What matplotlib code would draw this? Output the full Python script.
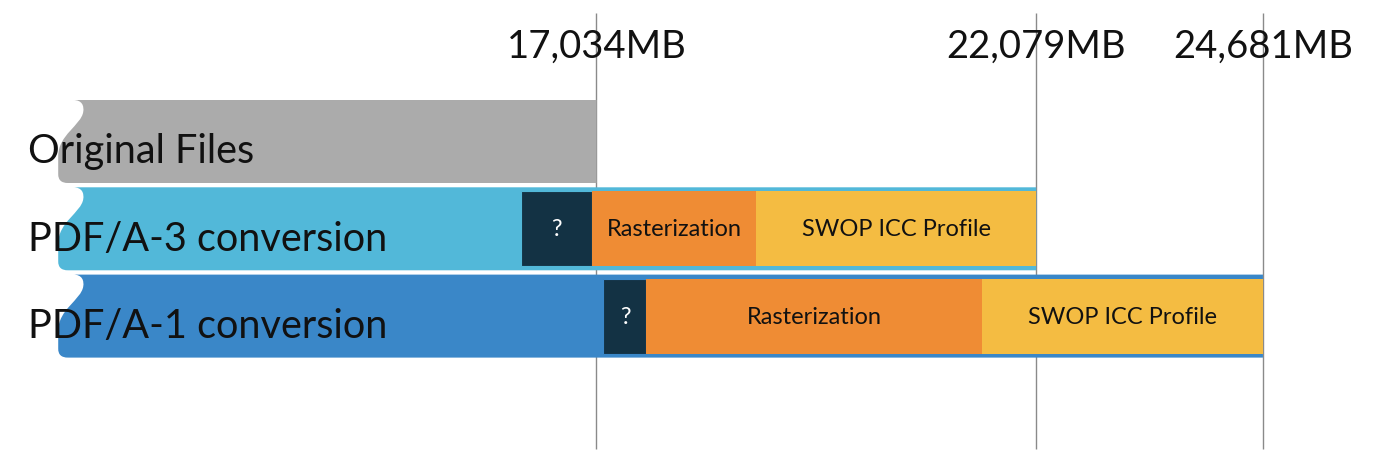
import matplotlib
matplotlib.use("Agg")
import matplotlib.pyplot as plt
from matplotlib.path import Path
from matplotlib.patches import PathPatch

# ---------------- data ----------------
categories = ["Original Files", "PDF/A-3 conversion", "PDF/A-1 conversion"]
totals_mb = [17034, 22079, 24681]
tick_values = [17034, 22079, 24681]
bar_colors = ["#ABABAB", "#52B8D9", "#3A87C8"]

seg_labels = ["?", "Rasterization", "SWOP ICC Profile"]
seg_colors = ["#133244", "#EF8C34", "#F4BC42"]
seg_text_colors = ["white", "#111111", "#111111"]
# segment boundaries (MB) for each conversion row
a3_bounds = [16163, 16988, 18868, 22079]
a1_bounds = [17114, 17607, 21459, 24681]
segments = {1: a3_bounds, 2: a1_bounds}

break_value = 11030  # broken-axis start of bars

# ---------------- layout ----------------
W, H = 1374, 460
MB_PER_PX = 11.474
X0 = 10190
Y_PX0 = 142.5
Y_STEP = 87.3

fig = plt.figure(figsize=(W / 100, H / 100), dpi=100)
ax = fig.add_axes([0, 0, 1, 1])
ax.set_xlim(X0, X0 + W * MB_PER_PX)
ax.set_ylim((H - Y_PX0) / Y_STEP, -Y_PX0 / Y_STEP)
ax.axis("off")

FONT = ["Lato", "DejaVu Sans"]

def px_x(dx):
    return dx * MB_PER_PX

def px_y(dy):
    return dy / Y_STEP

bar_h = 83 / Y_STEP
inset = 4 / Y_STEP

# vertical reference lines + top labels
for v in tick_values:
    ax.plot([v, v], [px_y(14 - Y_PX0), px_y(450 - Y_PX0)], color="#8a8a8a",
            lw=1.0, zorder=0, solid_capstyle="butt")
    ax.text(v, px_y(58 - Y_PX0), f"{v:,}MB", ha="center", va="baseline",
            fontsize=27.5, family=FONT, color="#111111", zorder=5)


def wavy_bar(y_center, end, color):
    top = y_center - bar_h / 2
    s = break_value
    def P(dx, dy):
        return (s + px_x(dx), top + px_y(dy))
    verts = [P(0, 0),
             P(9, 0), P(11, 6), P(10, 12),
             P(8, 25), P(-15, 35), P(-15, 56),
             P(-15, 74),
             P(-15, 80), P(-12, 83), P(-5, 83),
             (end, top + bar_h),
             (end, top),
             P(0, 0)]
    codes = [Path.MOVETO,
             Path.CURVE4, Path.CURVE4, Path.CURVE4,
             Path.CURVE4, Path.CURVE4, Path.CURVE4,
             Path.LINETO,
             Path.CURVE4, Path.CURVE4, Path.CURVE4,
             Path.LINETO, Path.LINETO, Path.CLOSEPOLY]
    ax.add_patch(PathPatch(Path(verts, codes), facecolor=color,
                           edgecolor="none", zorder=2))


for i, (cat, tot, col) in enumerate(zip(categories, totals_mb, bar_colors)):
    wavy_bar(i, tot, col)
    ax.text(X0 + px_x(28), i + px_y(21), cat, ha="left", va="baseline",
            fontsize=28.5, family=FONT, color="#111111", zorder=6)

for i, bounds in segments.items():
    for k in range(3):
        left, right = bounds[k], bounds[k + 1]
        ax.barh(i, right - left, left=left, height=bar_h - 2 * inset,
                color=seg_colors[k], edgecolor=bar_colors[i] if k == 0 else "none",
                lw=0.8, zorder=3)
        ax.text((left + right) / 2, i, seg_labels[k], ha="center", va="center",
                fontsize=17, family=FONT, color=seg_text_colors[k], zorder=6)

fig.savefig("out.png", dpi=100)
